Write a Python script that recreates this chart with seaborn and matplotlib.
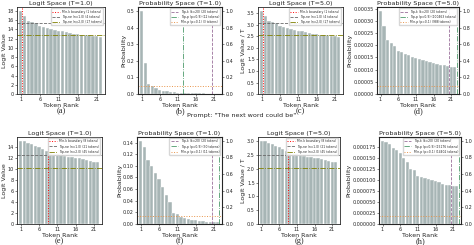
import numpy as np
import seaborn as sns
import matplotlib.pyplot as plt
from matplotlib.ticker import MultipleLocator, FormatStrFormatter

sns.set_style("ticks")
plt.rcParams['font.family'] = ['DejaVu Sans']

ranks = list(range(1, 23))
tick_pos = [1, 6, 11, 16, 21]

# prompt 1 (top row)
logit_a = [18.0, 17.0, 15.8, 15.6, 15.3, 14.8, 14.6, 14.4, 14.1, 13.9, 13.7, 13.6,
           13.4, 13.2, 13.1, 13.0, 12.9, 12.8, 12.7, 12.6, 12.5, 12.4]
prob_b = [0.50, 0.19, 0.06, 0.05, 0.035, 0.025, 0.02, 0.016, 0.013, 0.011, 0.009, 0.008,
          0.007, 0.006, 0.005, 0.0045, 0.004, 0.0035, 0.003, 0.003, 0.0025, 0.0025]
prob_d = [0.00034, 0.00028, 0.00022, 0.00021, 0.000195, 0.000178, 0.000172, 0.000166,
          0.00016, 0.00015, 0.000146, 0.000145, 0.00014, 0.000136, 0.000132, 0.000127,
          0.000125, 0.00012, 0.000117, 0.000115, 0.000112, 0.00011]
# prompt 2 (bottom row)
logit_e = [15.1, 15.0, 14.7, 14.5, 14.2, 13.9, 13.6, 13.3, 12.9, 12.8, 12.7, 12.5,
           12.4, 12.2, 12.1, 12.0, 11.9, 11.8, 11.7, 11.5, 11.3, 11.2]
prob_f = [0.143, 0.133, 0.110, 0.100, 0.088, 0.077, 0.064, 0.050, 0.038, 0.019, 0.017,
          0.012, 0.010, 0.008, 0.007, 0.006, 0.005, 0.0045, 0.004, 0.0035, 0.003, 0.0025]
prob_h = [0.000188, 0.000185, 0.00018, 0.000172, 0.000168, 0.00016, 0.00015, 0.00014,
          0.000125, 0.000123, 0.000108, 0.000106, 0.000105, 0.000101, 0.0001, 0.000097,
          0.000094, 0.000091, 0.000089, 0.000088, 0.000086, 0.000085]

temp = 5.0
logit_c = [v / temp for v in logit_a]
logit_g = [v / temp for v in logit_e]

nsig_a = [15.3, 12.7]
nsig_e = [12.6, 10.1]
mink_a = 1.3
mink_e = 8.5

leg_logit_1 = ["Min-k boundary (1 tokens)", "Top-nσ (n=1.0) (4 tokens)", "Top-nσ (n=2.0) (17 tokens)"]
leg_logit_2 = ["Min-k boundary (8 tokens)", "Top-nσ (n=1.0) (21 tokens)", "Top-nσ (n=2.0) (45 tokens)"]
leg_b = ["Top-k (k=20) (20 tokens)", "Top-p (p=0.9) (12 tokens)", "Min-p (p=0.1) (3 tokens)"]
leg_d = ["Top-k (k=20) (20 tokens)", "Top-p (p=0.9) (100463 tokens)", "Min-p (p=0.1) (988 tokens)"]
leg_f = ["Top-k (k=20) (20 tokens)", "Top-p (p=0.9) (30 tokens)", "Min-p (p=0.1) (11 tokens)"]
leg_h = ["Top-k (k=20) (20 tokens)", "Top-p (p=0.9) (15176 tokens)", "Min-p (p=0.1) (14402 tokens)"]

BAR = "#a7b5b5"
fig = plt.figure(figsize=(4.74, 2.45), dpi=100)


def bars(ax, vals):
    sns.barplot(x=ranks, y=vals, native_scale=True, ax=ax, color=BAR, width=0.9,
                edgecolor="white", linewidth=0.3, saturation=1)
    ax.set_xlim(0, 23.2)
    ax.set_xticks(tick_pos)
    ax.set_xlabel("Token Rank", fontsize=4.5, labelpad=0.5)
    ax.tick_params(labelsize=3.5, length=1.5, width=0.4, pad=0.8)
    for s in ax.spines.values():
        s.set_linewidth(0.6)


def legend(ax):
    ax.legend(fontsize=2.2, loc="upper right", handlelength=2.5, borderpad=0.4,
              labelspacing=0.35, framealpha=0.9, edgecolor="lightgray")


def caption(ax, cap):
    ax.text(0.5, -0.155, cap, transform=ax.transAxes, ha="center", va="top",
            fontsize=6, family="Liberation Serif")


def logit_panel(pos, vals, nsig, mink, leg, title, ylab, cap):
    ax = fig.add_axes(pos)
    bars(ax, vals)
    ax.axvline(mink, color="red", ls=":", lw=0.7, label=leg[0])
    ax.axhline(nsig[0], color="dimgray", ls="--", lw=0.6, label=leg[1])
    ax.axhline(nsig[1], color="olive", ls="-.", lw=0.6, label=leg[2])
    ax.set_title(title, fontsize=4.6, pad=1.5)
    ax.set_ylabel(ylab, fontsize=4.5, labelpad=0.5)
    legend(ax)
    caption(ax, cap)
    return ax


def prob_panel(pos, vals, topp, leg, title, cap):
    ax = fig.add_axes(pos)
    bars(ax, vals)
    ax.axvline(20.5, color="#9a6f9a", ls="--", lw=0.6, label=leg[0])
    ax.axvline(topp, color="#4c9a6a", ls="-.", lw=0.6, label=leg[1])
    ax.axhline(vals[0] * 0.1, color="#e8944a", ls=":", lw=0.7, label=leg[2])
    ax.set_title(title, fontsize=4.6, pad=1.5)
    ax.set_ylabel("Probability", fontsize=4.5, labelpad=0.5)
    legend(ax)
    ax2 = ax.twinx()
    ax2.set_ylim(0, 1.05)
    ax2.set_yticks([0, 0.2, 0.4, 0.6, 0.8, 1.0])
    ax2.tick_params(labelsize=3.5, length=1.5, width=0.4, pad=0.8)
    caption(ax, cap)
    return ax


top_b, bot_b, h = 0.616, 0.086, 0.356
ax = logit_panel([17 / 474, top_b, 88 / 474, h], logit_a, nsig_a, mink_a, leg_logit_1,
                 "Logit Space (T=1.0)", "Logit Value", "(a)")
ax.yaxis.set_major_locator(MultipleLocator(2))
ax = prob_panel([138 / 474, top_b, 84 / 474, h], prob_b, 12.5, leg_b,
                "Probability Space (T=1.0)", "(b)")
ax = logit_panel([258 / 474, top_b, 85 / 474, h], logit_c, [v / temp for v in nsig_a], mink_a,
                 leg_logit_1, "Logit Space (T=5.0)", "Logit Value / T", "(c)")
ax = prob_panel([377 / 474, top_b, 82 / 474, h], prob_d, 22.5, leg_d,
                "Probability Space (T=5.0)", "(d)")
ax.yaxis.set_major_formatter(FormatStrFormatter("%.5f"))

ax = logit_panel([17 / 474, bot_b, 85 / 474, h], logit_e, nsig_e, mink_e, leg_logit_2,
                 "Logit Space (T=1.0)", "Logit Value", "(e)")
ax.yaxis.set_major_locator(MultipleLocator(2))
ax = prob_panel([137 / 474, bot_b, 85 / 474, h], prob_f, 22.5, leg_f,
                "Probability Space (T=1.0)", "(f)")
ax = logit_panel([258 / 474, bot_b, 82 / 474, h], logit_g, [v / temp for v in nsig_e], mink_e,
                 leg_logit_2, "Logit Space (T=5.0)", "Logit Value / T", "(g)")
ax = prob_panel([379 / 474, bot_b, 82 / 474, h], prob_h, 22.5, leg_h,
                "Probability Space (T=5.0)", "(h)")
ax.yaxis.set_major_formatter(FormatStrFormatter("%.6f"))

fig.text(242 / 474, 1 - 115 / 245, 'Prompt: "The next word could be"', ha="center",
         va="center", fontsize=4.6)

fig.savefig("out.png", dpi=100)
